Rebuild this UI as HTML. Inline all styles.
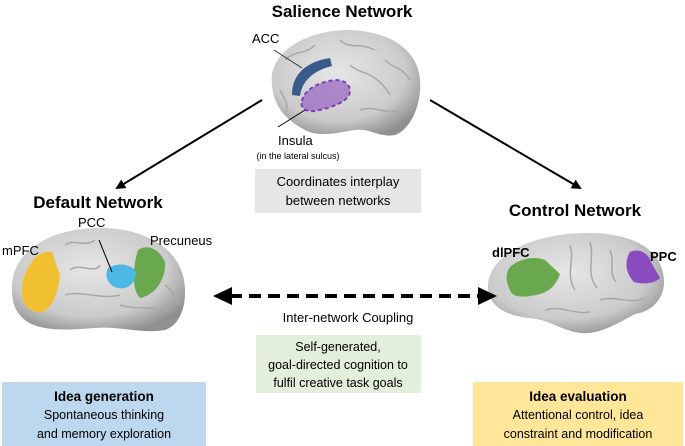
<!DOCTYPE html>
<html><head><meta charset="utf-8"><style>
html,body{margin:0;padding:0;background:#fff;}
svg{display:block;font-family:"Liberation Sans",sans-serif;}
</style></head><body>
<svg width="685" height="446" viewBox="0 0 685 446" xmlns="http://www.w3.org/2000/svg">
<defs>
<radialGradient id="g" cx="45%" cy="40%" r="65%">
<stop offset="0" stop-color="#e6e6e6"/><stop offset="0.7" stop-color="#cbcbcb"/><stop offset="1" stop-color="#909090"/>
</radialGradient>
<marker id="ah" markerWidth="10" markerHeight="10" refX="8" refY="5" orient="auto" markerUnits="userSpaceOnUse">
<path d="M0,0 L10,5 L0,10 z" fill="#000"/></marker>
</defs>
<text x="342" y="17" font-size="17" font-weight="bold" text-anchor="middle">Salience Network</text>
<text x="98" y="208" font-size="17" font-weight="bold" text-anchor="middle">Default Network</text>
<text x="575" y="216" font-size="17" font-weight="bold" text-anchor="middle">Control Network</text>

<path d="M272,85 C268,55 300,32 345,30 C390,30 418,50 420,80 C422,105 410,130 395,135 C380,138 370,128 355,130 C340,132 320,138 305,130 C290,122 274,110 272,85 Z" fill="url(#g)"/>
<g fill="none" stroke="#a8a8a8" stroke-width="1.5">
<path d="M285,60 C295,50 305,55 315,45"/><path d="M340,40 C350,50 360,42 375,50"/><path d="M385,60 C395,70 400,65 410,80"/><path d="M350,65 C360,75 375,70 390,95"/><path d="M360,110 C375,105 385,115 400,110"/><path d="M280,90 C285,100 290,105 285,115"/>
</g>
<path d="M292,95 C292,75 305,62 330,58 L332,66 C315,70 302,80 300,96 Z" fill="#3a5a8c"/>
<path d="M302,101 C304,90 318,82 335,80 C348,80 352,88 349,95 C345,103 330,108 315,111 C305,112 300,108 302,101 Z" fill="#9b6bc4" fill-opacity="0.75" stroke="#7a3fb0" stroke-width="2" stroke-dasharray="4,3"/>
<line x1="274" y1="50" x2="302" y2="68" stroke="#333" stroke-width="1"/>
<line x1="278" y1="127" x2="305" y2="110" stroke="#000" stroke-width="1"/>
<text x="252" y="43" font-size="13">ACC</text>
<text x="278" y="145" font-size="13">Insula</text>
<text x="298" y="159" font-size="9" text-anchor="middle">(in the lateral sulcus)</text>

<rect x="255" y="169" width="166" height="44" fill="#e7e6e6"/>
<text x="338" y="186" font-size="13" text-anchor="middle">Coordinates interplay</text>
<text x="338" y="205" font-size="13" text-anchor="middle">between networks</text>

<line x1="262" y1="100" x2="117" y2="188" stroke="#000" stroke-width="2" marker-end="url(#ah)"/>
<line x1="430" y1="100" x2="580" y2="188" stroke="#000" stroke-width="2" marker-end="url(#ah)"/>

<path d="M12,290 C10,255 45,228 100,228 C145,228 178,248 184,280 C188,305 180,325 165,330 C140,334 120,326 95,328 C70,330 40,332 25,320 C15,312 12,302 12,290 Z" fill="url(#g)"/>
<g fill="none" stroke="#a8a8a8" stroke-width="1.5">
<path d="M65,245 C75,238 85,248 95,240"/><path d="M70,270 C80,262 95,275 100,265"/><path d="M65,295 C80,290 100,300 120,295"/><path d="M120,305 C135,310 150,305 170,312"/><path d="M165,285 C172,290 176,298 178,305"/>
</g>
<path d="M30,265 C35,255 45,250 52,252 L60,275 C58,295 52,308 42,312 C30,313 22,305 22,292 C22,282 25,272 30,265 Z" fill="#f0c030"/>
<path d="M138,250 C148,243 160,250 165,262 C166,280 155,295 140,298 C132,290 132,270 138,250 Z" fill="#6aa84f"/>
<path d="M108,268 C118,262 132,264 136,272 C136,283 128,290 118,288 C108,286 104,276 108,268 Z" fill="#4db8e6"/>
<line x1="99" y1="240" x2="112" y2="272" stroke="#000" stroke-width="1"/>
<text x="78" y="227" font-size="13">PCC</text>
<text x="2" y="255" font-size="13">mPFC</text>
<text x="150" y="245" font-size="13">Precuneus</text>

<path d="M488,285 C490,255 530,234 585,233 C630,232 662,248 664,280 C665,300 650,312 635,314 C620,322 600,335 580,333 C560,330 550,320 530,318 C505,316 487,305 488,285 Z" fill="url(#g)"/>
<g fill="none" stroke="#a8a8a8" stroke-width="1.5">
<path d="M570,245 C575,260 565,275 575,290"/><path d="M590,242 C595,258 585,272 597,288"/><path d="M600,300 C615,295 630,305 645,298"/><path d="M545,310 C560,305 575,315 590,312"/><path d="M610,250 C615,262 608,272 616,282"/>
</g>
<path d="M510,267 C520,258 535,256 545,260 L560,274 C556,286 548,292 540,294 C525,298 512,298 510,290 C506,282 505,274 510,267 Z" fill="#6aa84f"/>
<path d="M630,252 C638,248 648,252 651,262 L660,278 C655,283 645,285 634,282 C626,274 624,262 630,252 Z" fill="#8a4bbf"/>
<text x="492" y="257" font-size="13" font-weight="bold">dlPFC</text>
<text x="650" y="261" font-size="13" font-weight="bold">PPC</text>

<line x1="230" y1="296" x2="480" y2="296" stroke="#000" stroke-width="4" stroke-dasharray="12,7"/>
<path d="M213,296 L232,287 L232,305 Z" fill="#000"/>
<path d="M497,296 L478,287 L478,305 Z" fill="#000"/>
<text x="348" y="322" font-size="13" text-anchor="middle">Inter-network Coupling</text>

<rect x="256" y="335" width="165" height="58" fill="#e2efda"/>
<text x="338" y="351" font-size="12.5" text-anchor="middle">Self-generated,</text>
<text x="338" y="369" font-size="12.5" text-anchor="middle">goal-directed cognition to</text>
<text x="338" y="387" font-size="12.5" text-anchor="middle">fulfil creative task goals</text>

<rect x="2" y="382" width="204" height="64" fill="#bdd7ee"/>
<text x="104" y="401" font-size="13.5" font-weight="bold" text-anchor="middle">Idea generation</text>
<text x="104" y="419" font-size="12.5" text-anchor="middle">Spontaneous thinking</text>
<text x="104" y="438" font-size="12.5" text-anchor="middle">and memory exploration</text>

<rect x="473" y="382" width="210" height="64" fill="#ffe699"/>
<text x="578" y="401" font-size="13.5" font-weight="bold" text-anchor="middle">Idea evaluation</text>
<text x="578" y="419" font-size="12.5" text-anchor="middle">Attentional control, idea</text>
<text x="578" y="438" font-size="12.5" text-anchor="middle">constraint and modification</text>
</svg>
</body></html>
